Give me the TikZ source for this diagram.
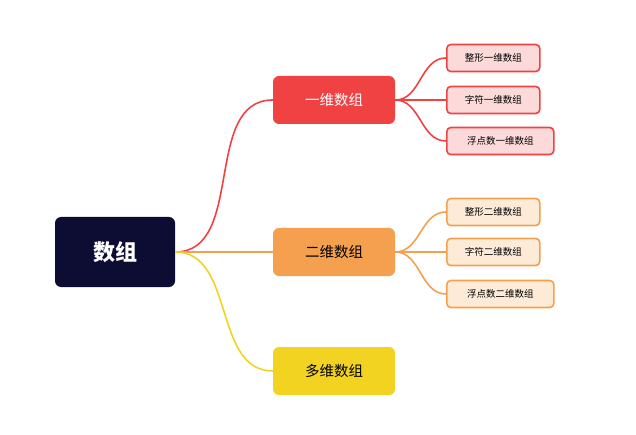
\documentclass[tikz,border=0pt]{standalone}
\usepackage{fontspec}
\setmainfont{Noto Sans CJK SC}
\definecolor{navy}{HTML}{0D0D33}
\definecolor{redc}{HTML}{F04242}
\definecolor{orangec}{HTML}{F5A04E}
\definecolor{yellowc}{HTML}{F2D322}
\definecolor{pinkc}{HTML}{FDDADA}
\definecolor{peachc}{HTML}{FDEBD8}
\tikzset{
  topic/.style={rounded corners=6pt, minimum width=122pt, minimum height=48pt, font=\fontsize{14.5}{16}\selectfont},
  leaf/.style={rounded corners=4pt, draw, line width=1.6pt, minimum height=27pt, font=\fontsize{9.5}{11}\selectfont, minimum width=93pt},
  longleaf/.style={leaf, minimum width=107pt},
  branch/.style={line width=1.6pt}
}
\begin{document}
\begin{tikzpicture}[x=1pt,y=-1pt]
\useasboundingbox (0,0) rectangle (636,435);
\node[topic,fill=navy,text=white,minimum width=120pt,minimum height=70pt,font=\fontsize{22}{26}\selectfont\bfseries] (root) at (115,252) {数组};
\node[topic,fill=redc,text=white] (a1) at (334,100) {一维数组};
\node[topic,fill=orangec,text=black] (a2) at (334,252) {二维数组};
\node[topic,fill=yellowc,text=black] (a3) at (334,371) {多维数组};
\node[leaf,draw=redc,fill=pinkc,anchor=west] (b1) at (446,58) {整形一维数组};
\node[leaf,draw=redc,fill=pinkc,anchor=west] (b2) at (446,100) {字符一维数组};
\node[longleaf,draw=redc,fill=pinkc,anchor=west] (b3) at (446,141) {浮点数一维数组};
\node[leaf,draw=orangec,fill=peachc,anchor=west] (c1) at (446,212) {整形二维数组};
\node[leaf,draw=orangec,fill=peachc,anchor=west] (c2) at (446,252) {字符二维数组};
\node[longleaf,draw=orangec,fill=peachc,anchor=west] (c3) at (446,294) {浮点数二维数组};
% branches
\draw[branch,redc] (root.east) to[out=0,in=180] (a1.west);
\draw[branch,orangec] (root.east) to[out=0,in=180] (a2.west);
\draw[branch,yellowc] (root.east) to[out=0,in=180] (a3.west);
\foreach \n in {b1,b2,b3}
  \draw[branch,redc] (a1.east) to[out=0,in=180] (\n.west);
\foreach \n in {c1,c2,c3}
  \draw[branch,orangec] (a2.east) to[out=0,in=180] (\n.west);
\end{tikzpicture}
\end{document}
